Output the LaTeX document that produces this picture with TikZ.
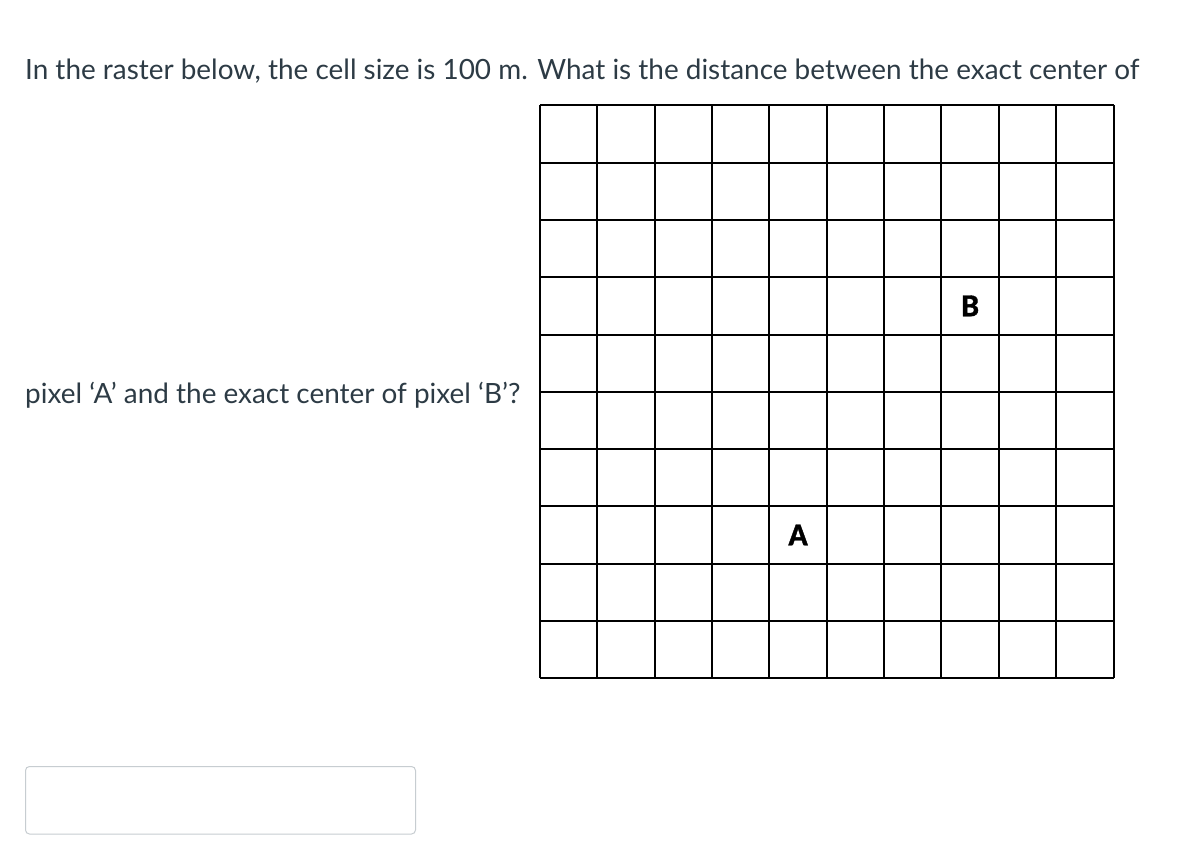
\documentclass[tikz,border=0pt]{standalone}
\usepackage{fontspec}
\setmainfont{Lato}
\newfontface\labelfont{Carlito Bold}[FakeBold=1.2]
\definecolor{txt}{HTML}{2D3B45}
\definecolor{boxgray}{HTML}{C7CDD1}
\begin{document}
\begin{tikzpicture}[x=1pt,y=-1pt,
  qtext/.style={anchor=base west,inner sep=0pt,text=txt,font=\fontsize{27.9}{32}\selectfont},
  celllabel/.style={inner sep=0pt,font=\labelfont\fontsize{32}{32}\selectfont},
  gridline/.style={line width=2pt,black}]
\useasboundingbox (0,0) rectangle (1204,861);
\fill[white] (0,0) rectangle (1204,861);
\node[qtext] (q1) at (25,79.5) {In the raster below, the cell size is 100 m. What is the distance between the exact center of};
\node[qtext] (q2) at (25,403.5) {pixel ‘A’ and the exact center of pixel ‘B’?};
% grid
\foreach \i in {0,...,10} {
  \draw[gridline] ({540+\i*57.35},105.5) -- ({540+\i*57.35},678);
  \draw[gridline] (540,{105.5+\i*57.25}) -- (1113.5,{105.5+\i*57.25});
}
\node[celllabel] (A) at ({540+4.5*57.35},{105.5+7.5*57.25}) {A};
\node[celllabel] (B) at ({540+7.5*57.35},{105.5+3.5*57.25}) {B};
% answer box
\draw[boxgray,line width=1pt,rounded corners=4pt] (25.5,766.5) rectangle (415.5,834);
\end{tikzpicture}
\end{document}
